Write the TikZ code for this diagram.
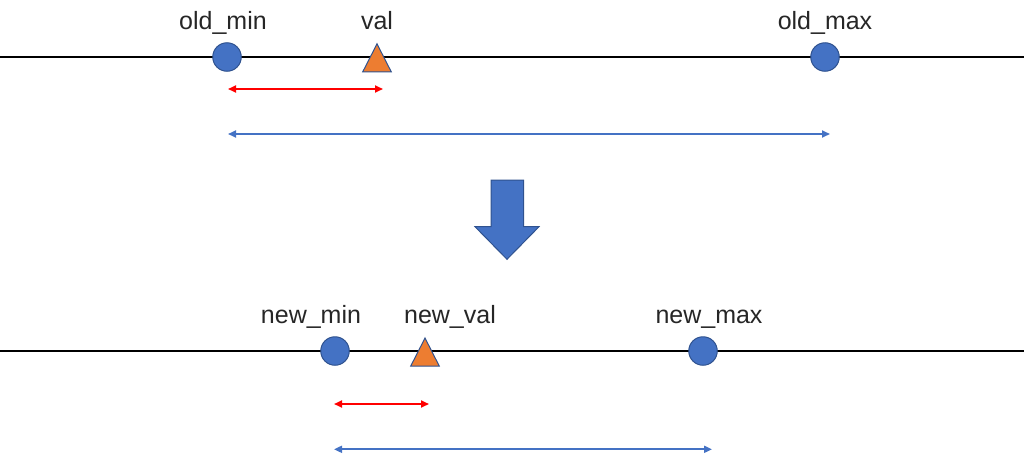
\documentclass[tikz,border=0pt]{standalone}
\usepackage{fontspec}
\setmainfont{Liberation Sans}
\usetikzlibrary{arrows.meta,shapes.geometric}
\definecolor{obase}{HTML}{4472C4}
\definecolor{oedge}{HTML}{2F528F}
\definecolor{oorange}{HTML}{ED7D31}
\definecolor{txt}{HTML}{262626}
\tikzset{
  axis/.style={line width=2pt,black},
  dot/.style={circle,fill=obase,draw=oedge,line width=1pt,minimum size=28.5pt,inner sep=0pt},
  tri/.style={isosceles triangle,isosceles triangle stretches,shape border rotate=90,fill=oorange,draw=oedge,line width=1pt,minimum width=28.5pt,minimum height=28pt,inner sep=0pt,anchor=apex},
  lbl/.style={font=\fontsize{25}{28}\selectfont,text=txt,anchor=base,inner sep=0pt},
  redspan/.style={line width=1.8pt,red,{Triangle[length=8pt,width=7pt]}-{Triangle[length=8pt,width=7pt]}},
  bluespan/.style={line width=1.8pt,obase,{Triangle[length=8pt,width=7pt]}-{Triangle[length=8pt,width=7pt]}},
  bigarrow/.style={fill=obase,draw=oedge,line width=1pt}
}
\begin{document}
\begin{tikzpicture}[x=1pt,y=-1pt]
\useasboundingbox (0,0) rectangle (1024,458);
% top axis
\coordinate (tl) at (0,57);
\coordinate (tr) at (1024,57);
\draw[axis] (tl) -- (tr);
\node[dot] (oldmin) at (227,57) {};
\node[tri] (val) at (377,42.5) {};
\node[dot] (oldmax) at (825,57) {};
\node[lbl] (loldmin) at (223,29) {old\_min};
\node[lbl] (lval) at (377,29) {val};
\node[lbl] (loldmax) at (825,29) {old\_max};
\coordinate (r1a) at (228,89);
\coordinate (r1b) at (383,89);
\draw[redspan] (r1a) -- (r1b);
\coordinate (b1a) at (228,134);
\coordinate (b1b) at (830,134);
\draw[bluespan] (b1a) -- (b1b);
% big down arrow
\draw[bigarrow] (491,180) -- (523.5,180) -- (523.5,226.7) -- (539,226.7) -- (507,259.3) -- (475,226.7) -- (491,226.7) -- cycle;
% bottom axis
\coordinate (bl) at (0,351);
\coordinate (br) at (1024,351);
\draw[axis] (bl) -- (br);
\node[dot] (newmin) at (335,351) {};
\node[tri] (newval) at (425,336.7) {};
\node[dot] (newmax) at (703,351) {};
\node[lbl] (lnewmin) at (311,323) {new\_min};
\node[lbl] (lnewval) at (450,323) {new\_val};
\node[lbl] (lnewmax) at (709,323) {new\_max};
\coordinate (r2a) at (334,404);
\coordinate (r2b) at (429,404);
\draw[redspan] (r2a) -- (r2b);
\coordinate (b2a) at (334,449.3);
\coordinate (b2b) at (712,449.3);
\draw[bluespan] (b2a) -- (b2b);
\end{tikzpicture}
\end{document}
